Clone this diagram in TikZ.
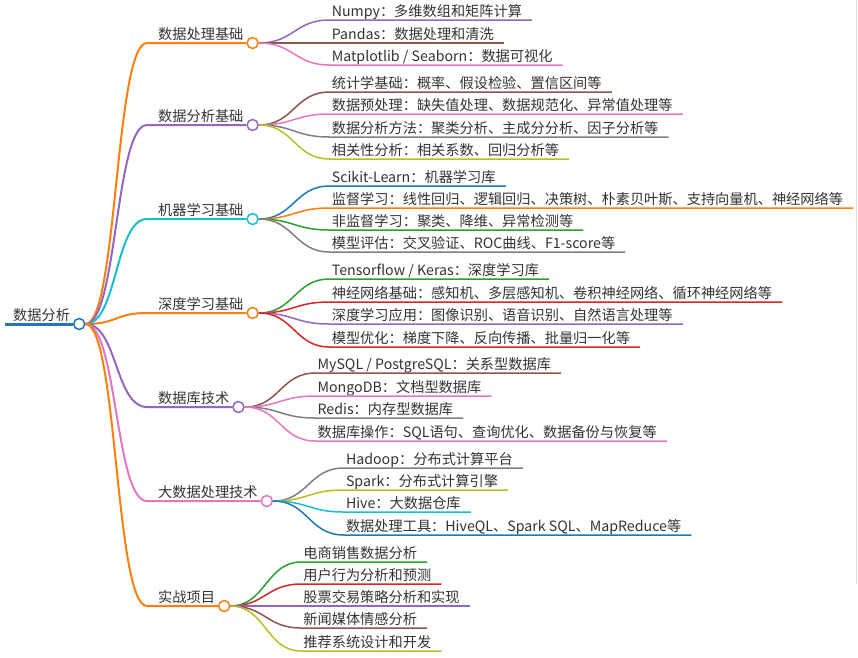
\documentclass[tikz,border=0pt]{standalone}
\usepackage{fontspec}
\setmainfont{Noto Sans CJK SC}
\usetikzlibrary{positioning}

\begin{document}
\begin{tikzpicture}[x=1pt, y=-1pt,
  texto/.style={font=\fontsize{14.2pt}{17pt}\selectfont, text=textog,
    anchor=south west, inner xsep=2pt, inner ysep=0.5pt,
    text height=11pt, text depth=3pt},
  punto/.style={circle, draw, fill=white, line width=1.5pt,
    minimum size=11pt, inner sep=0pt},
  rama/.style={line width=2pt},
  hoja/.style={line width=1.5pt}]

\definecolor{textog}{RGB}{51,51,51}
\definecolor{azul}{RGB}{31,119,180}
\definecolor{naranja}{RGB}{255,127,14}
\definecolor{verde}{RGB}{44,160,44}
\definecolor{rojo}{RGB}{214,39,40}
\definecolor{morado}{RGB}{148,103,189}
\definecolor{marron}{RGB}{140,86,75}
\definecolor{rosa}{RGB}{227,119,194}
\definecolor{gris}{RGB}{127,127,127}
\definecolor{oliva}{RGB}{188,189,34}
\definecolor{cian}{RGB}{23,190,207}
\definecolor{bordeg}{RGB}{222,222,222}

\useasboundingbox (0,0) rectangle (858,657);

% Borde derecho
\draw[bordeg, line width=1pt] (856,0) -- (856,584);

% === RAIZ ===
\node[texto] (raiz) at (11,324) {数据分析};
\node[punto, draw=azul] (r0) at ([xshift=7pt]raiz.south east) {};
\coordinate (r0izq) at ([xshift=-6pt]raiz.south west);
\draw[azul, line width=3pt] (r0izq) -- (r0.west);

% === RAMAS ===
\foreach \i/\col/\y/\t in {1/naranja/43/数据处理基础, 2/morado/125/数据分析基础,
  3/cian/219/机器学习基础, 4/naranja/313/深度学习基础, 5/morado/407/数据库技术,
  6/rosa/501/大数据处理技术, 7/naranja/606/实战项目}{
  \node[texto] (l\i) at (156,\y) {\t};
  \node[punto, draw=\col] (c\i) at ([xshift=7pt]l\i.south east) {};
  \coordinate (q\i) at ([xshift=-9pt]l\i.south west);
  \draw[rama, \col] (r0.east) .. controls +(32,0) and +(-32,0) .. (q\i) -- (c\i.west);
}

% === HOJAS ===
\foreach [count=\k] \g/\col/\y/\t in {
  1/morado/20/{Numpy：多维数组和矩阵计算},
  1/marron/43/{Pandas：数据处理和清洗},
  1/rosa/65/{Matplotlib / Seaborn：数据可视化},
  2/marron/92/{统计学基础：概率、假设检验、置信区间等},
  2/rosa/114/{数据预处理：缺失值处理、数据规范化、异常值处理等},
  2/gris/137/{数据分析方法：聚类分析、主成分分析、因子分析等},
  2/oliva/159/{相关性分析：相关系数、回归分析等},
  3/azul/186/{Scikit-Learn：机器学习库},
  3/naranja/208/{监督学习：线性回归、逻辑回归、决策树、朴素贝叶斯、支持向量机、神经网络等},
  3/verde/230/{非监督学习：聚类、降维、异常检测等},
  3/gris/252/{模型评估：交叉验证、ROC曲线、F1-score等},
  4/verde/279/{Tensorflow / Keras：深度学习库},
  4/rojo/302/{神经网络基础：感知机、多层感知机、卷积神经网络、循环神经网络等},
  4/morado/324/{深度学习应用：图像识别、语音识别、自然语言处理等},
  4/rojo/347/{模型优化：梯度下降、反向传播、批量归一化等},
  5/marron/373/{MySQL / PostgreSQL：关系型数据库},
  5/rosa/396/{MongoDB：文档型数据库},
  5/gris/418/{Redis：内存型数据库},
  5/rosa/441/{数据库操作：SQL语句、查询优化、数据备份与恢复等},
  6/gris/468/{Hadoop：分布式计算平台},
  6/oliva/490/{Spark：分布式计算引擎},
  6/cian/512/{Hive：大数据仓库},
  6/azul/535/{数据处理工具：HiveQL、Spark SQL、MapReduce等},
  7/verde/562/{电商销售数据分析},
  7/rojo/584/{用户行为分析和预测},
  7/morado/606/{股票交易策略分析和实现},
  7/marron/628/{新闻媒体情感分析},
  7/oliva/651/{推荐系统设计和开发}}{
  \coordinate (px\k) at ([xshift=77pt]c\g.center);
  \coordinate (py\k) at (0,\y);
  \node[texto] (h\k) at (px\k |- py\k) {\t};
  \draw[hoja, \col] (c\g.east) .. controls +(35,0) and +(-35,0) .. (h\k.south west)
    -- ([xshift=8pt]h\k.south east);
}

\end{tikzpicture}
\end{document}
